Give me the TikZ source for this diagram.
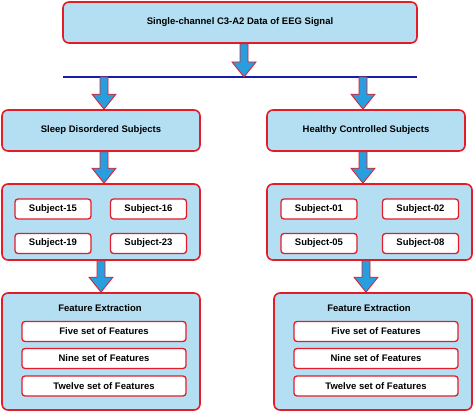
\documentclass[tikz,border=0pt]{standalone}
\usepackage{fontspec}
\setmainfont{Liberation Sans}
\usepackage{tikz}
\usetikzlibrary{calc}
\definecolor{boxblue}{RGB}{180,222,242}
\definecolor{boxred}{RGB}{228,28,40}
\definecolor{arrblue}{RGB}{40,158,222}
\definecolor{busblue}{RGB}{20,30,170}
\newcommand{\hdw}[0] {12pt}
\newcommand{\boxfont}[0] {\bfseries\fontsize{9.5}{11}\selectfont}
\tikzset{
  bigbox/.style={shape=rectangle,rounded corners=6pt,draw=boxred,line width=1.6pt,fill=boxblue,font=\boxfont},
  smallbox/.style={shape=rectangle,rounded corners=3pt,draw=boxred,line width=1.3pt,fill=white,minimum height=20,inner sep=1pt,font=\boxfont},
  fatarrow/.style={draw=boxred,line width=0.8pt,fill=arrblue,
    to path={let \p1=(\tikztostart), \p2=(\tikztotarget) in
      (\x1-4pt,\y1) -- (\x1+4pt,\y1) -- (\x1+4pt,\y2+15pt) -- (\x1+\hdw,\y2+15pt)
      -- (\x1,\y2) -- (\x1-\hdw,\y2+15pt) -- (\x1-4pt,\y2+15pt) -- cycle}}
}
\begin{document}
\begin{tikzpicture}[x=1pt,y=-1pt]
        \useasboundingbox (0,0) rectangle (474,412);
        \node[bigbox,minimum width=354,minimum height=41] (top) at (240,22.5) {Single-channel C3-A2 Data of EEG Signal};
        \node[bigbox,minimum width=198,minimum height=41] (sick) at (101,130.5) {Sleep Disordered Subjects};
        \node[bigbox,minimum width=198,minimum height=41] (well) at (366,130.5) {Healthy Controlled Subjects};
        \node[bigbox,minimum width=198,minimum height=76] (sicksub) at (101,222) {};
        \node[bigbox,minimum width=205,minimum height=76] (wellsub) at (369.5,222) {};
        \node[bigbox,minimum width=198,minimum height=117] (sickfe) at (101,351.5) {};
        \node[bigbox,minimum width=198,minimum height=117] (wellfe) at (373,351.5) {};

        %subjects
        \node[smallbox,minimum width=76] (s15) at (53,209) {Subject-15};
        \node[smallbox,minimum width=76] (s16) at (148.5,209) {Subject-16};
        \node[smallbox,minimum width=76] (s19) at (53,243.5) {Subject-19};
        \node[smallbox,minimum width=76] (s23) at (148.5,243.5) {Subject-23};
        \node[smallbox,minimum width=76] (s01) at (319,209) {Subject-01};
        \node[smallbox,minimum width=76] (s02) at (420.5,209) {Subject-02};
        \node[smallbox,minimum width=76] (s05) at (319,243.5) {Subject-05};
        \node[smallbox,minimum width=76] (s08) at (420.5,243.5) {Subject-08};

        %features
        \node[font=\boxfont] (sickfx) at (100,308) {Feature Extraction};
        \node[font=\boxfont] (wellfx) at (369,308) {Feature Extraction};
        \node[smallbox,minimum width=164] (sick5) at (104,331.5) {Five set of Features};
        \node[smallbox,minimum width=164] (sick9) at (104,358.5) {Nine set of Features};
        \node[smallbox,minimum width=164] (sick12) at (104,386) {Twelve set of Features};
        \node[smallbox,minimum width=164] (well5) at (376,331.5) {Five set of Features};
        \node[smallbox,minimum width=164] (well9) at (376,358.5) {Nine set of Features};
        \node[smallbox,minimum width=164] (well12) at (376,386) {Twelve set of Features};

        %bus line
        \coordinate (busl) at (63,77);
        \coordinate (busr) at (417,77);
        \coordinate (busm) at (244,77);
        \coordinate (busa) at (104,77);
        \coordinate (busb) at (363,77);
        \draw[busblue,line width=1.6pt] (busl) -- (busr);

        %block arrows
        \path[fatarrow] ($(top.south)+(4,0)$) to (busm);
        \path[fatarrow] (busa) to ($(sick.north)+(3,0)$);
        \path[fatarrow] (busb) to ($(well.north)+(-3,0)$);
        \path[fatarrow] ($(sick.south)+(3,0)$) to (sicksub.north);
        \path[fatarrow] ($(well.south)+(-3,0)$) to (wellsub.north);
        \path[fatarrow] (sicksub.south) to (sickfe.north);
        \path[fatarrow] ($(wellsub.south)+(-3.5,0)$) to (wellfe.north);
\end{tikzpicture}
\end{document}
